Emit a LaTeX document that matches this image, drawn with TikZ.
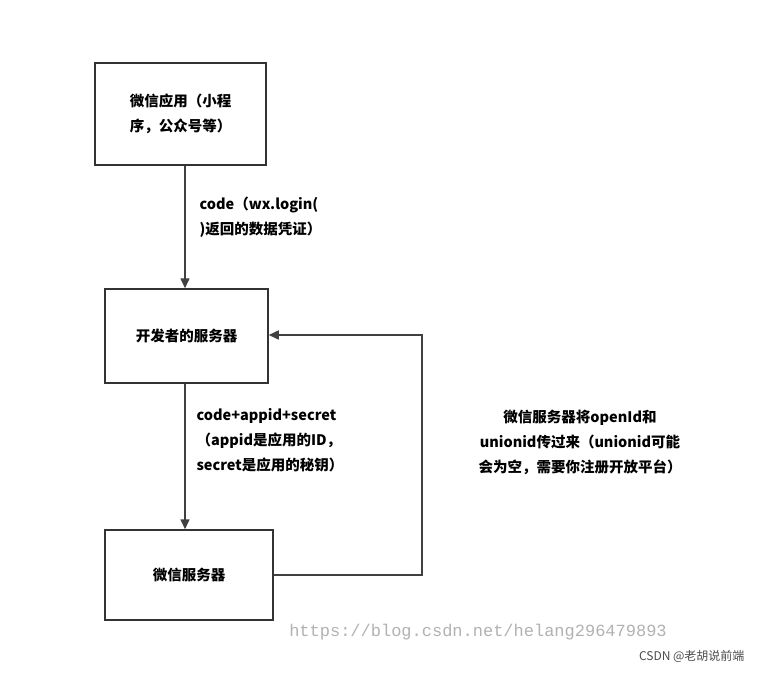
\documentclass[tikz,border=0pt]{standalone}
\usepackage{fontspec}
\setmainfont{Noto Sans CJK SC}
\newfontfamily\monof{Liberation Mono}
\usetikzlibrary{arrows.meta}
\begin{document}
\begin{tikzpicture}[x=1pt,y=-1pt,
  lbl/.style={font=\bfseries\fontsize{14.5}{25}\selectfont,align=left,anchor=west},
  arr/.style={-{Triangle[length=10pt,width=9pt]},line width=1.5pt,draw=black!75}]
\useasboundingbox[fill=white] (0,0) rectangle (760,675);
\tikzset{box/.style={draw=black!80,line width=1.5pt,font=\bfseries\fontsize{14.5}{25}\selectfont}}
\node[box,minimum width=171pt,minimum height=102pt,align=left] (a) at (180.5,114) {微信应用（小程\\序，公众号等）};
\node[box,minimum width=163pt,minimum height=94pt] (b) at (186.5,336) {开发者的服务器};
\node[box,minimum width=168pt,minimum height=90pt] (c) at (189,575) {微信服务器};
\draw[arr] (a.south -| 185,0) -- (b.north -| 185,0);
\draw[arr] (b.south -| 185,0) -- (c.north -| 185,0);
\coordinate (r1) at (422,575);
\coordinate (r2) at (422,335);
\draw[arr] (c.east |- r1) -- (r1) -- (r2) -- (b.east |- r2);
\node[lbl] (l1) at (196,217) {code（wx.login(\\)返回的数据凭证）};
\node[lbl] (l2) at (193,440) {code+appid+secret\\（appid是应用的ID，\\secret是应用的秘钥）};
\node[lbl,align=center,anchor=center] (l3) at (580,442) {微信服务器将openId和\\unionid传过来（unionid可能\\会为空，需要你注册开放平台）};
\node[text=black!30,font=\monof\fontsize{17}{20}\selectfont] (w1) at (478,632) {https://blog.csdn.net/helang296479893};
\node[text=black!70,font=\fontsize{12}{14}\selectfont,anchor=east] (w2) at (748,656) {CSDN @老胡说前端};
\end{tikzpicture}
\end{document}
